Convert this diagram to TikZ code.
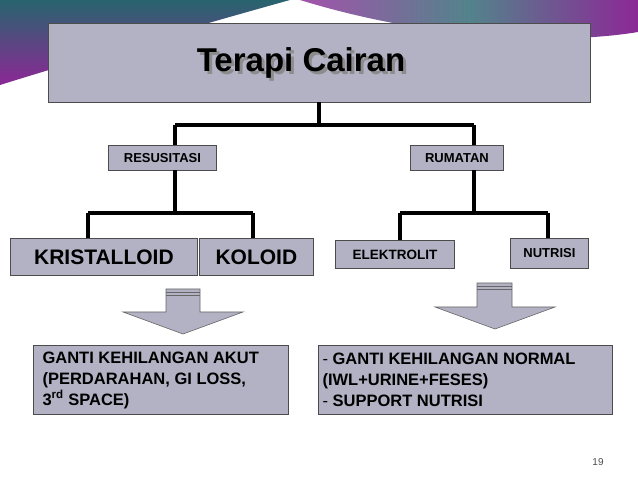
\documentclass[tikz,border=0pt]{standalone}
\usepackage{fontspec}
\setmainfont{Liberation Sans}
\begin{document}
\begin{tikzpicture}[x=1pt,y=-1pt,
  box/.style={draw=black!70,fill=boxc,line width=0.8pt,inner sep=0pt},
  conn/.style={line width=3.5pt},
  arr/.style={draw=black!60,fill=boxc,line width=0.6pt}]
\definecolor{boxc}{RGB}{178,178,196}
\definecolor{teal1}{RGB}{40,100,110}
\definecolor{purp}{RGB}{140,40,150}
\useasboundingbox (0,0) rectangle (638,478);
\fill[white] (0,0) rectangle (638,478);
% swooshes
\shade[top color=teal1,bottom color=purp] (0,0) -- (290,0) .. controls (200,25) and (80,60) .. (0,85) -- cycle;
\shade[left color=purp!80,right color=purp,middle color=teal1!80] (300,0) -- (638,0) -- (638,32) .. controls (560,45) and (430,40) .. (300,0) -- cycle;
% title
\node[box,minimum width=542,minimum height=79,anchor=north west] (title) at (48,23) {};
\node[font=\bfseries\fontsize{33}{35}\selectfont,text=black!45] (ts) at (304,66) {Terapi Cairan};
\node[font=\bfseries\fontsize{33}{35}\selectfont] (tt) at (301,63) {Terapi Cairan};
% level 2
\node[box,minimum width=108,minimum height=25,anchor=north west,font=\bfseries\fontsize{13}{15}\selectfont] (res) at (108,145) {RESUSITASI};
\node[box,minimum width=93,minimum height=25,anchor=north west,font=\bfseries\fontsize{13}{15}\selectfont] (rum) at (410,145) {RUMATAN};
\coordinate (t0) at (319,102);
\coordinate (t1) at (319,125);
\coordinate (tl) at (175,125);
\coordinate (tr) at (474,125);
\draw[conn] (t0) -- (t1);
\draw[conn] (tl) -- (tr);
\draw[conn] (tl) -- (175,145);
\draw[conn] (tr) -- (474,145);
% level 3
\node[box,minimum width=187,minimum height=37,anchor=north west,font=\bfseries\fontsize{21}{23}\selectfont] (kri) at (10,238) {KRISTALLOID};
\node[box,minimum width=114,minimum height=37,anchor=north west,font=\bfseries\fontsize{21}{23}\selectfont] (kol) at (199,238) {KOLOID};
\node[box,minimum width=119,minimum height=28,anchor=north west,font=\bfseries\fontsize{13.5}{15}\selectfont] (ele) at (335,240) {ELEKTROLIT};
\node[box,minimum width=78,minimum height=30,anchor=north west,font=\bfseries\fontsize{13}{15}\selectfont] (nut) at (510,238) {NUTRISI};
\draw[conn] (175,170) -- (175,213);
\draw[conn] (88,213) -- (253,213);
\draw[conn] (88,213) -- (88,238);
\draw[conn] (253,213) -- (253,238);
\draw[conn] (474,170) -- (474,213);
\draw[conn] (400,213) -- (548,213);
\draw[conn] (400,213) -- (400,240);
\draw[conn] (548,213) -- (548,238);
% block arrows
\draw[arr] (166,289) -- (200,289) -- (200,312) -- (243,312) -- (183,334) -- (123,312) -- (166,312) -- cycle;
\draw[black!60,line width=0.7pt] (166,292)--(200,292) (166,295)--(200,295);
\draw[arr] (477,283) -- (512,283) -- (512,307) -- (555,307) -- (495,329) -- (435,307) -- (477,307) -- cycle;
\draw[black!60,line width=0.7pt] (477,286)--(512,286) (477,289)--(512,289);
% bottom boxes
\node[box,minimum width=255,minimum height=69,anchor=north west] (bl) at (33,345) {};
\node[anchor=west,align=left,font=\bfseries\fontsize{16.5}{21}\selectfont] (blt) at (39,380) {GANTI KEHILANGAN AKUT\\(PERDARAHAN, GI LOSS,\\3\textsuperscript{rd} SPACE)};
\node[box,minimum width=294,minimum height=69,anchor=north west] (br) at (318,345) {};
\node[anchor=west,align=left,font=\fontsize{16.5}{21}\selectfont] (brt) at (319,380) {- \textbf{GANTI KEHILANGAN NORMAL}\\\textbf{(IWL+URINE+FESES)}\\- \textbf{SUPPORT NUTRISI}};
\node[font=\fontsize{10}{11}\selectfont,text=black!70] (pg) at (598,462) {19};
\end{tikzpicture}
\end{document}
